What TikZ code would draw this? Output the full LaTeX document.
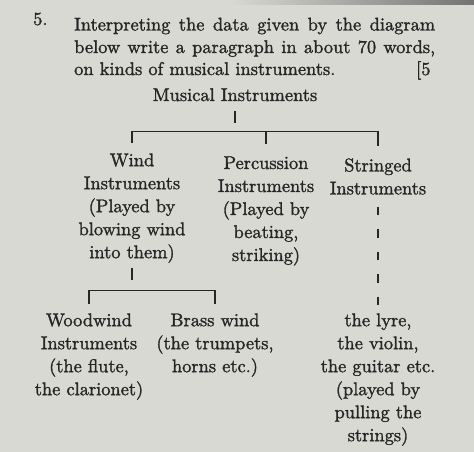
\documentclass[tikz,border=0pt]{standalone}
\usepackage{fontspec}
\newfontfamily\lmbold{lmroman10-regular.otf}[FakeBold=1.5]
\definecolor{paper}{RGB}{217,217,212}
\definecolor{ink}{RGB}{38,38,38}
\newcommand\dfont{\lmbold\fontsize{18.4}{23}\selectfont}
\begin{document}
\begin{tikzpicture}[x=1pt,y=-1pt,
  every node/.style={inner sep=0pt, text=ink, font=\dfont},
  blk/.style={align=center, anchor=north},
  ln/.style={draw=ink, line width=1.1pt},
  para/.style={anchor=base west}]
\fill[paper] (0,0) rectangle (474,452);
\useasboundingbox (0,0) rectangle (474,452);
\shade[left color=paper, right color=black!55] (230,1) rectangle (474,5);
% question
\node[anchor=base west] (num) at (33,25) {5.};
\node[para] (p1) at (74,30.5) {\makebox[361pt][s]{Interpreting the data given by the diagram}};
\node[para] (p2) at (74,53) {\makebox[361pt][s]{below write a paragraph in about 70 words,}};
\node[para] (p3) at (74,75) {on kinds of musical instruments.};
\node[anchor=base west] (mark) at (416,75) {[5};
% diagram
\node[anchor=base] (title) at (235,101) {Musical Instruments};
\node[blk] (wind) at (132,153.2) {Wind\\Instruments\\(Played by\\blowing wind\\into them)};
\node[blk] (perc) at (266,156.2) {Percussion\\Instruments\\(Played by\\beating,\\striking)};
\node[blk] (strg) at (378,158.2) {Stringed\\Instruments};
\node[blk] (wood) at (89,313.2) {Woodwind\\Instruments\\(the flute,\\the clarionet)};
\node[blk] (brass) at (215,313.2) {Brass wind\\(the trumpets,\\horns etc.)};
\node[blk] (lyre) at (378,313.2) {the lyre,\\the violin,\\the guitar etc.\\(played by\\pulling the\\strings)};
% connectors
\draw[ln] ([yshift=-10pt]title.south) -- ++(0,12);
\draw[ln] ([yshift=10pt]wind.north) |- ([yshift=27pt]strg.north) -- ([yshift=12pt]strg.north);
\draw[ln] ([yshift=25pt]perc.north) -- ([yshift=12pt]perc.north);
\draw[ln] ([yshift=-5.5pt]wind.south) -- ++(0,12);
\draw[ln] ([yshift=9pt]wood.north) |- ([yshift=23pt]brass.north) -- ([yshift=9pt]brass.north);
\draw[ln, dash pattern=on 8.5pt off 14pt] ([yshift=-12pt]strg.south) -- ([yshift=8pt]lyre.north);
\end{tikzpicture}
\end{document}
